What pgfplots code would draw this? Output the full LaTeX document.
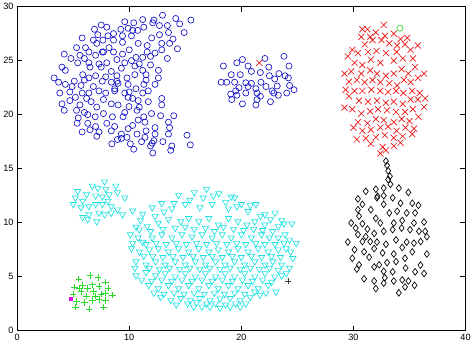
\documentclass[border=0pt]{standalone}
\usepackage{fontspec}
\setmainfont{Liberation Sans}
\usepackage{pgfplots}
\pgfplotsset{compat=1.18}
\definecolor{cblue}{RGB}{20,20,200}
\definecolor{cred}{RGB}{235,20,20}
\definecolor{ccyan}{RGB}{30,225,225}
\definecolor{cgreen}{RGB}{40,215,40}
\definecolor{cmag}{RGB}{230,0,230}
\begin{document}
\begin{tikzpicture}
\begin{axis}[
  scale only axis, width=440bp, height=318bp,
  xmin=0, xmax=40, ymin=0, ymax=30,
  xtick={0,10,...,40}, ytick={0,5,...,30},
  tick align=inside, tick pos=both,
  major tick length=5bp,
  tick style={black, line width=0.4pt},
  axis line style={line width=0.5pt},
  tick label style={font=\fontsize{9}{10}\selectfont},
  /pgf/number format/assume math mode=true,
  every axis plot/.append style={only marks, line width=0.65pt},
  clip=false,
]
% blue crescent + small blob
\addplot[cblue, mark=o, mark size=3bp] coordinates {
(12.97,29.2)(15.5,28.75)(14.15,28.9)(12.2,28.75)(11.2,28.8)(10.4,28.5)(9.6,28.6)(14.5,28.4)(14.9,27.6)(13.4,28.25)
(12.7,28.25)(12.1,28.5)(11.3,28.1)(10.75,27.8)(10.2,27.3)(9.25,27.9)(8.6,27.5)(7.5,28.3)(8.1,27.3)(7.2,27.4)
(6.8,26.9)(5.8,27.1)(7.1,26.6)(7.65,26.9)(8.6,26.9)(9.4,27.3)(9.4,26.7)(10.8,26.6)(11.6,26.4)(12.0,27.1)
(12.7,27.4)(13.5,27.6)(12.9,26.6)(13.6,26.6)(12.9,26.0)(13.4,25.2)(11.9,25.4)(11.2,25.3)(10.6,25.3)(11.6,25.8)
(10.0,26.0)(9.4,25.6)(8.6,25.8)(7.7,25.8)(7.0,25.5)(6.4,25.8)(5.3,26.2)(6.1,26.2)(5.6,25.5)(4.8,25.2)
(4.2,25.6)(5.4,24.8)(6.4,24.8)(7.3,24.7)(8.0,24.8)(8.9,25.1)(9.6,24.8)(10.5,24.5)(11.2,24.1)(11.9,24.6)
(12.6,24.1)(11.5,23.7)(10.5,23.7)(9.8,23.4)(8.9,23.6)(8.4,24.0)(7.5,24.4)(6.5,24.4)(5.85,23.7)(4.0,24.4)
(4.3,24.1)(5.1,23.1)(4.3,22.8)(3.3,23.4)(3.8,22.0)(4.7,22.1)(5.7,22.7)(6.4,23.4)(7.0,23.6)(7.6,23.1)
(8.4,23.0)(9.0,22.9)(9.9,22.8)(10.6,22.4)(11.3,22.8)(12.3,22.8)(11.2,22.0)(11.7,22.2)(10.3,21.5)(9.6,22.0)
(8.7,22.2)(7.9,22.0)(7.3,22.2)(6.4,22.0)(5.8,22.0)(4.7,21.3)(5.6,20.9)(4.2,20.4)(5.3,20.4)(6.0,20.2)
(6.6,21.2)(7.7,21.4)(8.4,21.0)(9.0,20.9)(9.9,21.6)(10.8,21.3)(11.7,21.2)(12.9,21.5)(12.9,20.9)(11.99,20.1)
(10.7,20.4)(9.98,20.75)(9.45,19.8)(8.5,19.8)(7.7,20.1)(6.97,19.8)(6.3,20.0)(5.45,19.7)(5.35,19.2)(5.8,18.4)
(6.3,19.2)(7.0,18.9)(7.1,18.0)(7.3,18.4)(8.4,18.5)(8.7,18.9)(9.3,18.2)(9.9,18.7)(10.3,19.0)(11.4,19.3)
(12.3,18.8)(13.5,19.3)(13.97,19.9)(13.6,18.8)(13.5,18.2)(12.3,18.2)(11.5,18.5)(10.7,18.2)(11.1,17.5)(10.1,17.3)
(10.4,16.8)(9.3,17.8)(8.45,17.3)(8.95,17.7)(12.05,17.35)(12.2,17.6)(11.9,17.1)(12.1,16.45)(13.0,17.5)(13.7,16.7)
(13.8,17.1)(15.15,18.1)(15.45,17.2)(8.7,22.4)(8.9,23.1)(10.9,20.7)(11.5,23.2)(10.9,24.7)(7.6,25.8)
(6.9,27.9)(8.0,28.1)(9.9,28.0)(13.9,27.0)(14.3,26.1)(12.3,25.7)(10.2,25.0)(6.0,23.2)(4.9,22.6)(5.2,21.6)
(6.2,21.5)(7.1,20.7)(9.6,20.2)(11.3,19.8)(12.8,19.9)(10.8,19.5)(8.0,19.2)(6.5,18.6)(9.8,17.9)(11.4,17.9)
(4.0,21.0)(3.7,23.0)(6.0,25.2)(8.2,26.2)(10.3,27.8)(12.6,23.4)(9.3,24.3)(7.9,23.5)(6.8,22.6)(10.0,22.1)
(18.4,24.5)(20.1,25.1)(19.6,24.8)(20.6,24.5)(22.1,25.2)(23.8,25.4)(24.25,24.5)(22.45,24.4)(21.7,23.9)(20.9,24.0)
(19.9,23.7)(19.1,23.7)(18.2,23.0)(18.7,23.0)(19.4,23.0)(20.4,22.95)(20.9,22.9)(21.75,23.0)(22.5,23.6)(22.98,23.3)
(23.35,23.8)(23.9,23.6)(24.2,23.4)(23.2,22.65)(22.75,22.2)(22.2,22.6)(21.3,22.4)(20.6,22.6)(19.8,22.5)(19.5,22.2)
(19.05,21.9)(19.6,21.8)(20.4,22.0)(21.4,22.0)(21.7,21.7)(22.9,22.0)(24.05,22.0)(24.3,22.7)(24.7,22.3)(19.15,21.4)
(20.1,21.0)(21.3,20.9)(21.4,21.4)(22.6,21.2)(23.3,21.8)
};
% red crosses
\addplot[cred, mark=x, mark size=4.2bp] coordinates {
(21.6,24.8)
(30.7,27.2)(31.25,27.9)(32.0,27.6)(32.7,28.3)(33.6,27.5)(34.2,27.0)(34.6,26.5)(33.2,26.6)(32.5,26.9)(31.7,26.9)
(31.0,26.5)(29.9,26.0)(30.4,25.7)(29.5,25.4)(31.3,25.8)(32.05,25.9)(32.9,25.7)(33.85,25.8)(35.1,26.0)(35.75,26.4)
(34.4,25.2)(35.3,25.2)(33.6,25.0)(32.4,24.8)(31.55,25.1)(30.8,24.6)(30.1,24.8)(29.8,24.0)(29.2,23.8)(30.7,23.8)
(31.5,24.1)(32.1,23.8)(32.9,23.6)(33.6,23.8)(34.3,24.2)(34.9,23.8)(35.5,24.4)(36.3,23.8)(35.75,23.4)(35.1,23.0)
(34.5,23.2)(33.9,22.7)(33.2,22.9)(32.4,23.0)(31.7,23.2)(31.0,23.0)(30.3,23.2)(29.6,23.05)(29.3,22.3)(30.1,22.2)
(30.8,22.2)(31.6,22.3)(32.4,22.2)(33.1,22.1)(33.8,22.2)(34.45,22.0)(35.25,22.2)(35.9,22.0)(36.4,21.5)(35.75,21.4)
(35.1,21.4)(34.4,21.0)(33.6,21.2)(32.9,21.1)(32.1,21.3)(31.3,21.2)(30.5,21.3)(29.6,21.7)(29.2,20.65)(29.9,20.5)
(30.7,20.1)(31.5,20.3)(32.2,20.5)(33.0,20.4)(33.8,20.25)(34.6,20.25)(35.3,20.5)(36.3,20.7)(35.8,19.8)(35.0,19.4)
(34.3,19.6)(33.6,19.3)(32.7,19.5)(32.0,19.6)(31.25,19.2)(30.4,19.3)(30.0,18.8)(30.8,18.5)(31.55,18.6)(32.4,18.8)
(33.1,18.9)(33.85,18.5)(34.65,18.8)(35.4,18.7)(35.25,18.2)(34.4,18.0)(33.6,17.85)(32.8,18.1)(32.0,17.9)(31.1,17.8)
(30.3,17.7)(31.55,17.3)(32.6,17.0)(33.6,17.1)(34.2,17.4)(32.9,16.7)(32.4,16.4)(30.8,27.9)(31.5,27.2)(33.9,26.4)
(34.8,27.1)(32.8,27.3)
};
% green circle
\addplot[cgreen, mark=o, mark size=3bp] coordinates {(34.15,28.0)};
% black diamonds
\addplot[black, mark=diamond, mark size=3.3bp] coordinates {
(32.9,15.7)(33.0,15.3)(33.1,14.8)(33.25,14.3)(33.1,14.0)(33.3,13.55)(32.7,13.2)
(31.1,12.9)(32.0,13.1)(32.7,12.5)(34.05,13.2)(34.9,12.8)(30.4,12.2)(30.8,11.7)(32.1,12.3)(33.5,12.3)(34.2,11.8)
(35.25,11.8)(35.8,11.6)(30.4,11.2)(31.55,11.2)(32.7,11.7)(33.2,10.9)(33.9,11.05)(34.75,10.9)(35.5,10.9)(30.5,10.6)
(32.0,10.4)(29.8,9.97)(30.8,9.9)(32.4,9.97)(33.6,9.97)(34.35,10.2)(35.4,9.97)(36.3,10.06)(30.2,9.5)(31.25,9.4)
(31.85,9.0)(32.7,9.2)(33.5,9.35)(34.3,9.5)(35.05,9.35)(35.85,9.2)(36.4,9.2)(29.5,8.2)(30.4,8.9)(31.1,8.7)
(32.1,8.2)(32.9,8.0)(33.8,8.4)(34.75,8.2)(35.4,8.1)(36.0,8.25)(36.55,8.7)(30.1,7.5)(30.95,7.3)(31.85,7.6)
(32.6,7.2)(33.6,7.1)(34.35,7.7)(35.25,7.3)(36.55,7.1)(29.9,6.7)(30.5,6.1)(31.4,6.8)(32.3,6.1)(33.0,6.3)
(33.8,6.4)(34.6,6.7)(35.98,6.07)(30.3,5.7)(31.85,5.9)(32.7,5.5)(33.5,5.45)(34.65,5.8)(35.5,5.45)(36.3,5.3)
(30.95,4.8)(31.85,4.6)(32.8,4.9)(33.6,4.6)(34.35,4.7)(34.9,4.6)(32.0,3.9)(32.7,4.4)(34.05,3.5)(34.6,4.05)
(35.45,4.2)(32.15,12.45)(30.8,8.25)(31.5,8.25)
};
% cyan triangles
\addplot[ccyan, mark=triangle, mark size=3.5bp, mark options={rotate=180}] coordinates {
(5.4,12.9)(5.2,12.3)(5.0,11.7)(5.85,12.0)(6.2,12.6)(6.7,13.4)(7.2,13.2)(7.8,13.8)(7.9,13.1)(7.0,12.5)
(7.6,12.4)(8.2,12.6)(8.8,13.4)(8.95,12.8)(9.6,12.3)(5.7,11.4)(6.4,11.5)(7.0,11.7)(7.6,11.7)(8.4,11.5)
(8.95,11.2)(9.4,10.75)(5.85,10.5)(6.4,10.75)(7.1,10.1)(7.8,10.75)(8.4,10.9)(6.3,10.3)(7.3,10.9)(8.1,12.0)
(12.9,11.8)(14.4,12.55)(15.8,12.8)(16.9,13.1)(18.0,12.7)(19.1,12.4)(20.0,11.7)(21.3,11.7)(10.3,11.1)(11.2,10.8)
(12.05,11.4)(13.8,11.3)(15.0,11.7)(16.3,11.4)(17.4,11.7)(18.85,11.3)(19.4,12.3)(20.6,11.05)(22.1,10.75)(23.0,10.9)
(23.8,9.9)(10.1,8.9)(10.9,9.35)(11.6,9.65)(12.6,9.97)(13.5,10.3)(14.6,10.1)(15.3,10.4)(16.2,10.1)(17.1,10.4)
(17.95,9.8)(18.85,10.4)(19.7,10.1)(20.5,9.8)(21.2,10.1)(22.1,9.8)(23.3,9.65)(23.9,8.9)(24.3,8.4)(24.9,8.1)
(10.3,8.1)(11.2,8.2)(12.05,8.6)(12.9,8.9)(13.8,8.6)(14.7,8.9)(15.6,8.7)(16.5,8.9)(17.4,8.6)(18.3,8.9)
(19.1,8.6)(20.0,8.9)(20.9,8.6)(21.8,8.9)(22.5,8.6)(23.3,8.6)(10.9,7.3)(11.8,7.5)(12.6,7.6)(13.5,7.3)
(14.4,7.6)(15.3,7.3)(16.2,7.6)(17.1,7.3)(17.95,7.5)(18.85,7.3)(19.7,7.6)(20.6,7.3)(21.5,7.6)(22.4,7.3)
(23.3,7.5)(24.0,7.6)(24.6,6.7)(10.6,6.4)(11.5,6.1)(12.35,6.4)(13.2,6.1)(14.1,6.4)(15.0,6.1)(15.9,6.4)
(16.8,6.1)(17.7,6.4)(18.55,6.1)(19.4,6.4)(20.3,6.1)(21.2,6.4)(22.1,6.1)(22.8,6.4)(23.6,6.1)(24.3,5.8)
(10.6,5.1)(11.5,5.4)(12.35,5.1)(13.2,5.3)(14.1,5.0)(15.0,5.3)(15.9,5.0)(16.8,5.3)(17.7,5.0)(18.55,5.3)
(19.4,5.0)(20.3,5.3)(21.2,5.0)(22.1,5.3)(22.98,5.0)(23.6,5.1)(11.75,4.2)(12.6,3.9)(13.5,4.2)(14.4,3.9)
(15.3,4.2)(16.2,3.9)(17.1,4.2)(17.95,3.9)(18.85,4.2)(19.7,3.9)(20.6,4.2)(21.5,3.9)(22.4,4.2)(23.1,3.6)
(12.8,3.1)(13.7,2.8)(14.6,3.0)(15.45,2.8)(16.3,3.0)(17.2,2.8)(18.1,2.95)(19.0,3.0)(19.9,2.8)(20.8,3.1)
(21.65,3.3)(15.75,2.2)(16.5,2.2)(17.2,2.2)(18.1,2.1)(19.0,2.2)(19.9,2.2)
(11.0,10.2)(12.3,10.6)(13.1,11.0)(14.0,11.8)(15.4,12.1)(16.6,12.3)(17.5,12.5)(18.6,11.9)(19.6,11.5)(20.8,11.6)
(21.7,10.6)(22.6,10.3)(23.6,10.2)(10.6,9.6)(11.9,9.2)(13.0,9.4)(14.1,9.5)(15.0,9.6)(15.8,9.4)(16.8,9.5)
(17.6,9.2)(18.4,9.6)(19.3,9.4)(20.2,9.3)(21.1,9.4)(21.9,9.3)(22.8,9.2)(24.5,9.9)(10.8,8.6)(11.5,8.0)
(12.4,8.1)(13.3,8.0)(14.2,8.1)(15.1,8.0)(16.0,8.1)(16.9,8.0)(17.8,8.1)(18.7,8.0)(19.6,8.1)(20.4,8.0)
(21.3,8.1)(22.1,8.0)(23.0,8.0)(23.8,8.1)(10.2,7.6)(11.3,6.9)(12.1,6.9)(13.0,6.8)(13.9,6.9)(14.8,6.8)
(15.7,6.9)(16.6,6.8)(17.4,6.9)(18.3,6.8)(19.2,6.9)(20.0,6.8)(20.9,6.9)(21.8,6.8)(22.7,6.9)(23.5,6.8)
(24.4,7.3)(10.5,5.8)(11.8,5.8)(12.7,5.7)(13.6,5.8)(14.5,5.7)(15.4,5.8)(16.3,5.7)(17.2,5.8)(18.1,5.7)
(19.0,5.8)(19.9,5.7)(20.8,5.8)(21.6,5.7)(22.5,5.8)(23.3,5.6)(24.0,5.3)(11.1,4.7)(12.0,4.6)(12.9,4.7)
(13.8,4.6)(14.7,4.7)(15.6,4.6)(16.5,4.7)(17.4,4.6)(18.3,4.7)(19.2,4.6)(20.1,4.7)(21.0,4.6)(21.9,4.7)
(22.7,4.5)(12.2,3.5)(13.1,3.4)(14.0,3.5)(14.9,3.4)(15.8,3.5)(16.7,3.4)(17.6,3.5)(18.5,3.4)(19.4,3.5)
(20.3,3.4)(21.2,3.6)(22.2,3.5)(14.2,2.4)(15.2,2.5)(16.0,2.6)(16.9,2.5)(17.7,2.5)(18.6,2.4)(19.5,2.5)
(20.4,2.5)
};
% green plus
\addplot[cgreen, mark=+, mark size=3.2bp] coordinates {
(5.5,4.8)(6.5,5.1)(7.2,4.9)(7.9,4.5)(5.1,4.05)(5.85,4.2)(6.7,4.25)(7.3,4.1)(8.1,3.95)(5.0,3.4)
(5.7,3.6)(6.2,3.2)(6.8,3.65)(7.5,3.4)(7.9,3.5)(8.5,3.3)(5.3,2.7)(6.0,2.6)(6.7,2.8)(7.3,2.9)
(7.9,2.8)(5.2,2.2)(6.4,2.0)(7.7,2.2)(5.55,3.9)(6.3,3.9)(7.0,3.2)
};
% magenta point
\addplot[cmag, mark=square*, mark size=1.6bp] coordinates {(4.8,2.95)};
% black plus
\addplot[black!75, mark=+, mark size=3bp] coordinates {(24.2,4.6)};
\end{axis}
\end{tikzpicture}
\end{document}
